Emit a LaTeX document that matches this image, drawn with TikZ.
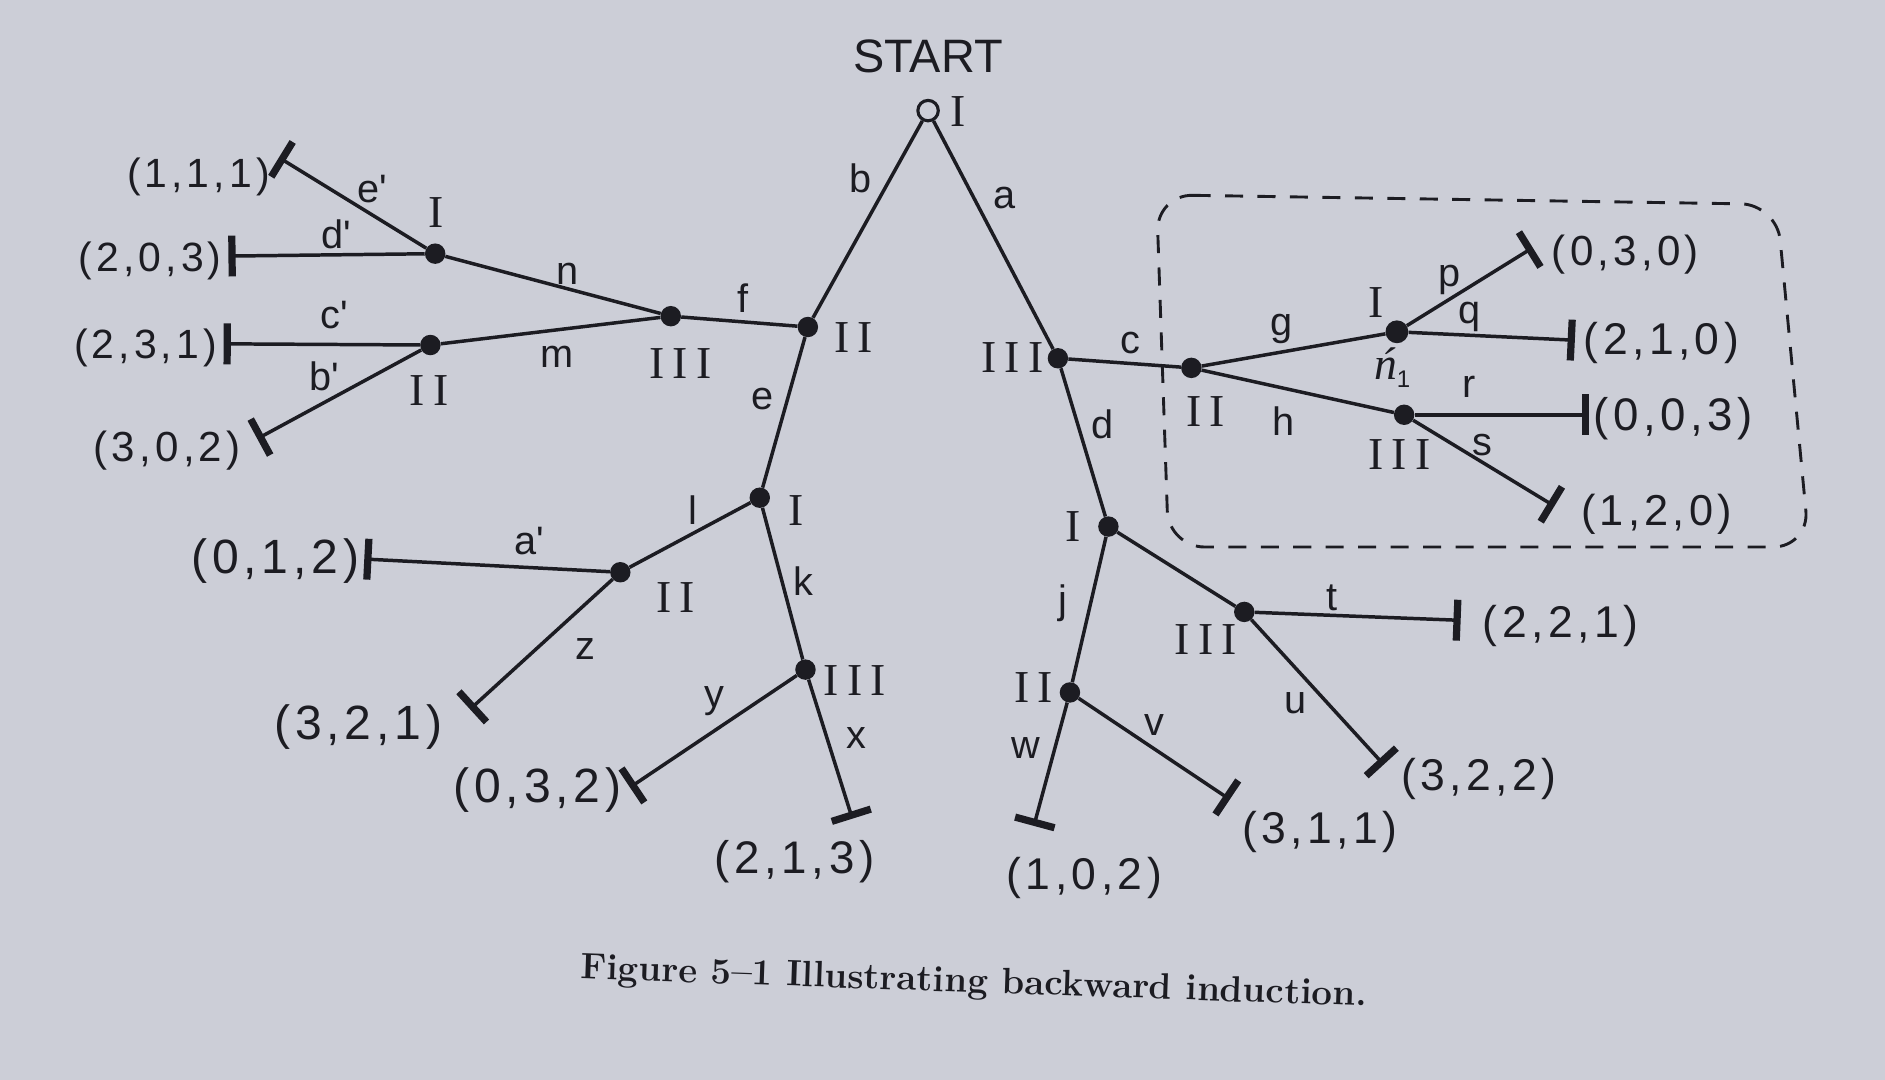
\documentclass[tikz,border=0pt]{standalone}
\usepackage{fontspec}
\usetikzlibrary{arrows.meta}
\newfontfamily\payfont[LetterSpace=10]{Liberation Sans}
\newfontfamily\labfont{Liberation Sans}
\newfontfamily\romfont[LetterSpace=18]{Liberation Serif}
\newfontfamily\nfont{Liberation Serif}
\definecolor{bg}{RGB}{204,206,215}
\definecolor{ink}{RGB}{28,28,34}
\tikzset{
  dec/.style={circle,fill=ink,inner sep=0pt,minimum size=17pt},
  rootnode/.style={circle,draw=ink,line width=2.6pt,fill=bg,inner sep=0pt,minimum size=17pt},
  edge/.style={draw=ink,line width=2.9pt},
  tedge/.style={draw=ink,line width=2.9pt,-{Bar[width=34pt,line width=6pt]}},
  lab/.style={text=ink,inner sep=0pt,font=\labfont\fontsize{33}{33}\selectfont},
  pl/.style={text=ink,inner sep=0pt,font=\romfont\fontsize{38}{38}\selectfont},
  pay/.style={text=ink,inner sep=0pt,font=\payfont\fontsize{#1}{#1}\selectfont},
  pay/.default=37
}
\begin{document}
\begin{tikzpicture}[x=1pt,y=-1pt]
\fill[bg] (0,0) rectangle (1568,898);
\useasboundingbox (0,0) rectangle (1568,898);

% dashed information box
\draw[ink,line width=2.4pt,dash pattern=on 15pt off 12pt,rounded corners=30pt]
  (962,162) -- (1478,170) -- (1505,455) -- (972,455) -- cycle;

% decision nodes
\node[rootnode] (root) at (772,92) {};
\node[dec] (IIL) at (672,272) {};
\node[dec] (IIIL) at (558,263) {};
\node[dec] (Itop) at (362,211) {};
\node[dec] (IItop) at (358,287) {};
\node[dec] (Ilow) at (632,414) {};
\node[dec] (IIlow) at (516,476) {};
\node[dec] (IIIlow) at (670,557) {};
\node[dec] (IIIR) at (880,298) {};
\node[dec] (IIbox) at (991,306) {};
\node[dec,minimum size=19pt] (In1) at (1162,276) {};
\node[dec] (IIIbox) at (1168,345) {};
\node[dec] (Imid) at (922,438) {};
\node[dec] (IIIbot) at (1035,509) {};
\node[dec] (IIbot) at (890,576) {};

% terminal points
\coordinate (t111) at (232,131);
\coordinate (t203) at (190,213);
\coordinate (t231) at (186,286);
\coordinate (t302) at (214,365);
\coordinate (t012) at (303,465);
\coordinate (t321) at (391,590);
\coordinate (t032) at (524,655);
\coordinate (t213) at (709,681);
\coordinate (t102) at (860,687);
\coordinate (t311) at (1023,665);
\coordinate (t322) at (1151,636);
\coordinate (t221) at (1215,516);
\coordinate (t030) at (1275,206);
\coordinate (t210) at (1310,283);
\coordinate (t003) at (1322,345);
\coordinate (t120) at (1293,421);

% edges between decision nodes
\draw[edge] (root) -- (IIL);
\draw[edge] (root) -- (IIIR);
\draw[edge] (IIL) -- (IIIL);
\draw[edge] (IIL) -- (Ilow);
\draw[edge] (IIIL) -- (Itop);
\draw[edge] (IIIL) -- (IItop);
\draw[edge] (Ilow) -- (IIlow);
\draw[edge] (Ilow) -- (IIIlow);
\draw[edge] (IIIR) -- (IIbox);
\draw[edge] (IIIR) -- (Imid);
\draw[edge] (IIbox) -- (In1);
\draw[edge] (IIbox) -- (IIIbox);
\draw[edge] (Imid) -- (IIbot);
\draw[edge] (Imid) -- (IIIbot);

% terminal edges
\draw[tedge] (Itop) -- (t111);
\draw[tedge] (Itop) -- (t203);
\draw[tedge] (IItop) -- (t231);
\draw[tedge] (IItop) -- (t302);
\draw[tedge] (IIlow) -- (t012);
\draw[tedge] (IIlow) -- (t321);
\draw[tedge] (IIIlow) -- (t032);
\draw[tedge] (IIIlow) -- (t213);
\draw[tedge] (IIbot) -- (t102);
\draw[tedge] (IIbot) -- (t311);
\draw[tedge] (IIIbot) -- (t322);
\draw[tedge] (IIIbot) -- (t221);
\draw[tedge] (In1) -- (t030);
\draw[tedge] (In1) -- (t210);
\draw[tedge] (IIIbox) -- (t003);
\draw[tedge] (IIIbox) -- (t120);

% START
\node[text=ink,inner sep=0pt,font=\labfont\fontsize{39}{39}\selectfont] (start) at (772,47) {START};

% player labels
\node[pl] (plroot) at (797,93) {I};
\node[pl] (plIIL) at (710,281) {II};
\node[pl] (plIIIL) at (566,302) {III};
\node[pl] (plItop) at (363,177) {I};
\node[pl] (plIItop) at (357,325) {II};
\node[pl] (plIlow) at (662,425) {I};
\node[pl] (plIIlow) at (562,497) {II};
\node[pl] (plIIIlow) at (711,566) {III};
\node[pl] (plIIIR) at (842,297) {III};
\node[pl] (plIIbox) at (1003,342) {II};
\node[pl] (plIn1) at (1145,252) {I};
\node[text=ink,inner sep=0pt] (n1) at (1158,306) {{\nfont\itshape\fontsize{38}{38}\selectfont ń}{\labfont\fontsize{20}{20}\selectfont\raisebox{-7pt}{1}}};
\node[pl] (plIIIbox) at (1164,378) {III};
\node[pl] (plImid) at (893,438) {I};
\node[pl] (plIIIbot) at (1003,532) {III};
\node[pl] (plIIbot) at (860,572) {II};

% edge labels
\node[lab] (lb) at (716,148) {b};
\node[lab] (la) at (836,165) {a};
\node[lab] (lf) at (618,248) {f};
\node[lab] (le) at (634,332) {e};
\node[lab] (ln) at (472,228) {n};
\node[lab] (lm) at (463,297) {m};
\node[lab] (lep) at (310,157) {e'};
\node[lab] (ldp) at (280,195) {d'};
\node[lab] (lcp) at (278,262) {c'};
\node[lab] (lbp) at (270,313) {b'};
\node[lab] (ll) at (576,424) {l};
\node[lab] (lk) at (668,483) {k};
\node[lab] (lap) at (440,450) {a'};
\node[lab] (lz) at (487,540) {z};
\node[lab] (ly) at (594,583) {y};
\node[lab] (lx) at (712,614) {x};
\node[lab] (lc) at (940,285) {c};
\node[lab] (ld) at (917,353) {d};
\node[lab] (lg) at (1066,274) {g};
\node[lab] (lh) at (1068,350) {h};
\node[lab] (lp) at (1206,233) {p};
\node[lab] (lq) at (1222,264) {q};
\node[lab] (lr) at (1222,322) {r};
\node[lab] (ls) at (1233,370) {s};
\node[lab] (lj) at (884,502) {j};
\node[lab] (lt) at (1108,497) {t};
\node[lab] (lu) at (1078,585) {u};
\node[lab] (lw) at (853,622) {w};
\node[lab] (lv) at (960,603) {v};

% payoffs
\node[pay=34] (p111) at (165,147) {(1,1,1)};
\node[pay=34] (p203) at (125,217) {(2,0,3)};
\node[pay=34] (p231) at (121,289) {(2,3,1)};
\node[pay=35] (p302) at (139,375) {(3,0,2)};
\node[pay=40] (p012) at (229,467) {(0,1,2)};
\node[pay=40] (p321) at (298,605) {(3,2,1)};
\node[pay=40] (p032) at (447,657) {(0,3,2)};
\node[pay=38] (p213) at (661,717) {(2,1,3)};
\node[pay=37] (p102) at (902,730) {(1,0,2)};
\node[pay=37] (p311) at (1098,692) {(3,1,1)};
\node[pay=37] (p322) at (1230,648) {(3,2,2)};
\node[pay=37] (p221) at (1298,521) {(2,2,1)};
\node[pay=35] (p030) at (1352,212) {(0,3,0)};
\node[pay=37] (p210) at (1382,285) {(2,1,0)};
\node[pay=38] (p003) at (1392,348) {(0,0,3)};
\node[pay=36] (p120) at (1378,428) {(1,2,0)};

% caption
\node[text=ink,inner sep=0pt,rotate=-2,font=\bfseries\fontsize{30.5}{30.5}\selectfont] (cap) at (810,818) {Figure 5--1 Illustrating backward induction.};
\end{tikzpicture}
\end{document}
